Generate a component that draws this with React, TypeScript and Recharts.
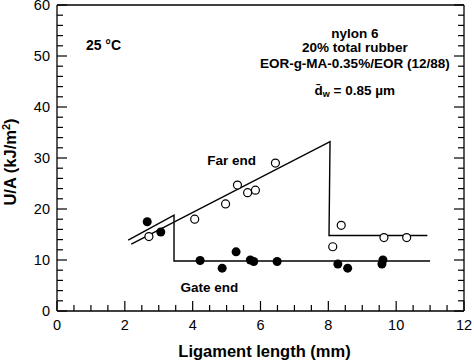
import { ComposedChart, Line, Scatter, XAxis, YAxis, ReferenceDot } from "recharts"

const FONT = "'Liberation Sans', Arial, Helvetica, sans-serif"

// Far end (open circles) and gate end (filled circles) measurements
const farEnd = [
  { x: 2.71, y: 14.6 },
  { x: 4.06, y: 18.0 },
  { x: 4.97, y: 21.0 },
  { x: 5.32, y: 24.7 },
  { x: 5.62, y: 23.2 },
  { x: 5.85, y: 23.7 },
  { x: 6.44, y: 29.0 },
  { x: 8.13, y: 12.6 },
  { x: 8.38, y: 16.8 },
  { x: 9.64, y: 14.4 },
  { x: 10.31, y: 14.4 },
]

const gateEnd = [
  { x: 2.66, y: 17.5 },
  { x: 3.06, y: 15.5 },
  { x: 4.22, y: 9.9 },
  { x: 4.87, y: 8.4 },
  { x: 5.28, y: 11.6 },
  { x: 5.7, y: 10.0 },
  { x: 5.8, y: 9.7 },
  { x: 6.49, y: 9.7 },
  { x: 8.28, y: 9.2 },
  { x: 8.57, y: 8.4 },
  { x: 9.61, y: 10.0 },
  { x: 9.58, y: 9.2 },
]

// hand-drawn trend lines
const farFit = [
  { x: 2.19, y: 13.1 },
  { x: 8.05, y: 33.2 },
  { x: 8.02, y: 14.8 },
  { x: 10.92, y: 14.8 },
]

const gateFit = [
  { x: 2.1, y: 13.9 },
  { x: 3.45, y: 18.8 },
  { x: 3.45, y: 9.8 },
  { x: 11.0, y: 9.8 },
]

const xLabels = [0, 2, 4, 6, 8, 10, 12]
const yLabels = [0, 10, 20, 30, 40, 50, 60]
const xTicks = Array.from({ length: 25 }, (_, i) => i * 0.5)
const yTicks = Array.from({ length: 31 }, (_, i) => i * 2)

const axisLine = { stroke: "#000", strokeWidth: 1.3 }

const BottomTick = (p: any) => {
  const v = p.payload.value
  const major = xLabels.includes(v)
  return (
    <g>
      <line x1={p.x} x2={p.x} y1={p.y} y2={p.y - (major ? 10 : 6)} stroke="#000" strokeWidth={1.2} />
      {major && (
        <text x={p.x} y={p.y + 19} textAnchor="middle" fontFamily={FONT} fontSize={14.5} fill="#000">
          {v}
        </text>
      )}
    </g>
  )
}

const TopTick = (p: any) => {
  const major = xLabels.includes(p.payload.value)
  return <line x1={p.x} x2={p.x} y1={p.y} y2={p.y + (major ? 10 : 6)} stroke="#000" strokeWidth={1.2} />
}

const LeftTick = (p: any) => {
  const v = p.payload.value
  const major = yLabels.includes(v)
  return (
    <g>
      <line x1={p.x} x2={p.x + (major ? 10 : 6)} y1={p.y} y2={p.y} stroke="#000" strokeWidth={1.2} />
      {major && (
        <text x={p.x - 7} y={p.y + 5} textAnchor="end" fontFamily={FONT} fontSize={14.5} fill="#000">
          {v}
        </text>
      )}
    </g>
  )
}

const RightTick = (p: any) => {
  const major = yLabels.includes(p.payload.value)
  return <line x1={p.x} x2={p.x - (major ? 10 : 6)} y1={p.y} y2={p.y} stroke="#000" strokeWidth={1.2} />
}

const OpenDot = (p: any) => <circle cx={p.cx} cy={p.cy} r={4} fill="#fff" stroke="#000" strokeWidth={1.2} />
const FilledDot = (p: any) => <circle cx={p.cx} cy={p.cy} r={4.5} fill="#000" />

const note = (text: any, size = 13.5) => (p: any) => (
  <text x={p.cx} y={p.cy} textAnchor="middle" dominantBaseline="central" fontFamily={FONT} fontWeight="bold" fontSize={size} fill="#000">
    {text}
  </text>
)

export default function App() {
  return (
    <div style={{ position: "absolute", left: 0, top: 0, background: "#fff" }}>
      <ComposedChart width={474} height={362} margin={{ top: 0, right: 0, bottom: 0, left: 0 }}>
        <XAxis
          xAxisId="b"
          dataKey="x"
          type="number"
          domain={[0, 12]}
          allowDataOverflow
          ticks={xTicks}
          interval={0}
          height={51}
          tickSize={0}
          tickMargin={0}
          tickLine={false}
          axisLine={axisLine}
          tick={BottomTick}
          label={{
            content: (p: any) => (
              <text
                x={p.viewBox.x + p.viewBox.width / 2 + 4}
                y={p.viewBox.y + 46}
                textAnchor="middle"
                fontFamily={FONT}
                fontWeight="bold"
                fontSize={16.5}
                fill="#000"
              >
                Ligament length (mm)
              </text>
            ),
          }}
        />
        <XAxis
          xAxisId="t"
          orientation="top"
          type="number"
          domain={[0, 12]}
          allowDataOverflow
          ticks={xTicks}
          interval={0}
          height={5}
          tickSize={0}
          tickMargin={0}
          tickLine={false}
          axisLine={axisLine}
          tick={TopTick}
        />
        <YAxis
          yAxisId="l"
          type="number"
          domain={[0, 60]}
          allowDataOverflow
          ticks={yTicks}
          interval={0}
          width={57}
          tickSize={0}
          tickMargin={0}
          tickLine={false}
          axisLine={axisLine}
          tick={LeftTick}
          label={{
            content: (p: any) => {
              const cx = 16
              const cy = p.viewBox.y + p.viewBox.height / 2 + 4
              return (
                <text
                  x={cx}
                  y={cy}
                  transform={`rotate(-90 ${cx} ${cy})`}
                  textAnchor="middle"
                  fontFamily={FONT}
                  fontWeight="bold"
                  fontSize={16.5}
                  fill="#000"
                >
                  U/A (kJ/m
                  <tspan dy={-6} fontSize={11}>2</tspan>
                  <tspan dy={6}>)</tspan>
                </text>
              )
            },
          }}
        />
        <YAxis
          yAxisId="r"
          orientation="right"
          type="number"
          domain={[0, 60]}
          allowDataOverflow
          ticks={yTicks}
          interval={0}
          width={10}
          tickSize={0}
          tickMargin={0}
          tickLine={false}
          axisLine={axisLine}
          tick={RightTick}
        />

        <Line xAxisId="b" yAxisId="l" data={farFit} dataKey="y" type="linear" stroke="#000" strokeWidth={1.4} dot={false} isAnimationActive={false} />
        <Line xAxisId="b" yAxisId="l" data={gateFit} dataKey="y" type="linear" stroke="#000" strokeWidth={1.4} dot={false} isAnimationActive={false} />
        <Scatter xAxisId="b" yAxisId="l" data={farEnd} dataKey="y" shape={OpenDot} isAnimationActive={false} />
        <Scatter xAxisId="b" yAxisId="l" data={gateEnd} dataKey="y" shape={FilledDot} isAnimationActive={false} />

        <ReferenceDot xAxisId="b" yAxisId="l" x={1.37} y={52.2} r={0} shape={note("25 °C", 14)} />
        <ReferenceDot xAxisId="b" yAxisId="l" x={8.78} y={54.4} r={0} shape={note("nylon 6")} />
        <ReferenceDot xAxisId="b" yAxisId="l" x={8.78} y={51.6} r={0} shape={note("20% total rubber")} />
        <ReferenceDot xAxisId="b" yAxisId="l" x={8.78} y={48.5} r={0} shape={note("EOR-g-MA-0.35%/EOR (12/88)")} />
        <ReferenceDot
          xAxisId="b"
          yAxisId="l"
          x={8.78}
          y={43.3}
          r={0}
          shape={note(
            <>
              {"d\u0304"}
              <tspan dy={4} fontSize={9}>w</tspan>
              <tspan dy={-4}> = 0.85 µm</tspan>
            </>
          )}
        />
        <ReferenceDot xAxisId="b" yAxisId="l" x={5.15} y={29.6} r={0} shape={note("Far end")} />
        <ReferenceDot xAxisId="b" yAxisId="l" x={4.49} y={4.7} r={0} shape={note("Gate end")} />
      </ComposedChart>
    </div>
  )
}
